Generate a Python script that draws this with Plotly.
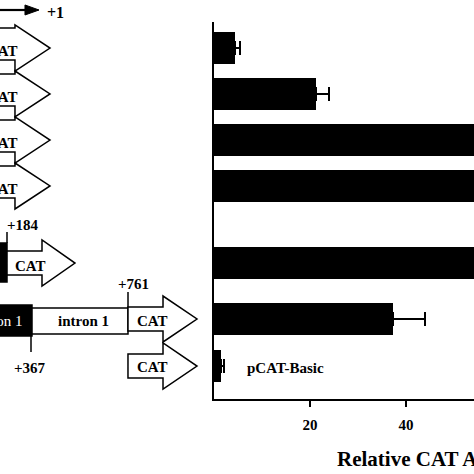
import plotly.graph_objects as go

# constructs (top to bottom) and relative CAT activity
constructs = ["del-1", "del-2", "del-3", "del-4", "+1/+184", "+1/+761", "pCAT-Basic"]
activity = [4.4, 21.3, 78.0, 74.0, 70.0, 37.3, 1.5]
error = [1.0, 2.7, 4.0, 4.0, 4.0, 6.7, 0.6]
x_ticks = [20, 40, 60]

W, H = 474, 474
row_px = [48, 94, 140, 186, 263, 319, 366]   # row centres, in pixels from top
SERIF = "Liberation Serif, Times New Roman, serif"


def px(x):
    return x / W


def py(y):
    return 1 - y / H


def path(points):
    s = "M " + " L ".join("%.4f,%.4f" % (px(x), py(y)) for x, y in points)
    return s + " Z"


def cat_arrow(x0, x1, tip, cy, top=12, bot=12, head=23):
    return path([(x0, cy - top), (x1, cy - top), (x1, cy - head), (tip, cy),
                 (x1, cy + head), (x1, cy + bot), (x0, cy + bot)])


fig = go.Figure()

fig.add_trace(go.Bar(
    x=activity, y=row_px, orientation="h", width=32,
    marker=dict(color="black", line=dict(width=0)),
    error_x=dict(type="data", array=error, symmetric=False, arrayminus=[0] * len(error),
                 color="black", thickness=2, width=7),
    hovertext=constructs, hoverinfo="text+x",
))

shapes = []
annotations = []
line = dict(color="black", width=1.5)


def label(text, x, y, size=14, color="black", anchor="center"):
    annotations.append(dict(text="<b>%s</b>" % text, x=px(x), y=py(y), xref="paper", yref="paper",
                            xanchor=anchor, yanchor="middle", showarrow=False,
                            font=dict(family=SERIF, size=size, color=color)))


# transcription start arrow
shapes.append(dict(type="line", xref="paper", yref="paper", x0=px(-2), y0=py(10), x1=px(27), y1=py(10),
                   line=dict(color="black", width=2.2)))
shapes.append(dict(type="path", xref="paper", yref="paper", path=path([(25, 5), (39, 10), (25, 15)]),
                   fillcolor="black", line=dict(color="black", width=1)))
label("+1", 55, 12, size=16)

# deletion constructs
for cy in row_px[:4]:
    shapes.append(dict(type="path", xref="paper", yref="paper",
                       path=cat_arrow(-5, 15, 50, cy, top=20, bot=12),
                       fillcolor="white", line=line))
    label("CAT", 20, cy + 3, size=15, anchor="right")

# +1 to +184
cy = row_px[4]
shapes.append(dict(type="rect", xref="paper", yref="paper", x0=px(-5), x1=px(7), y0=py(243), y1=py(282),
                   fillcolor="black", line=line))
shapes.append(dict(type="line", xref="paper", yref="paper", x0=px(7), x1=px(7), y0=py(232), y1=py(243), line=line))
label("+184", 23, 225, size=15)
shapes.append(dict(type="path", xref="paper", yref="paper", path=cat_arrow(7, 42, 75, cy),
                   fillcolor="white", line=line))
label("CAT", 30, cy + 3, size=15)

# exon 1 / intron 1
cy = row_px[5]
shapes.append(dict(type="rect", xref="paper", yref="paper", x0=px(-5), x1=px(32), y0=py(305), y1=py(336),
                   fillcolor="black", line=line))
annotations.append(dict(text="exon 1", x=px(24), y=py(321), xref="paper", yref="paper", xanchor="right",
                        yanchor="middle", showarrow=False, font=dict(family=SERIF, size=15, color="white")))
shapes.append(dict(type="rect", xref="paper", yref="paper", x0=px(32), x1=px(128), y0=py(308), y1=py(334),
                   fillcolor="white", line=line))
label("intron 1", 83, 321, size=15)
shapes.append(dict(type="line", xref="paper", yref="paper", x0=px(31), x1=px(31), y0=py(336), y1=py(352), line=line))
label("+367", 30, 368, size=15)
shapes.append(dict(type="line", xref="paper", yref="paper", x0=px(128), x1=px(128), y0=py(292), y1=py(308), line=line))
label("+761", 133, 284, size=15)
shapes.append(dict(type="path", xref="paper", yref="paper", path=cat_arrow(128, 163, 197, cy),
                   fillcolor="white", line=line))
label("CAT", 152, cy + 2, size=15)

# pCAT-Basic
cy = row_px[6]
shapes.append(dict(type="path", xref="paper", yref="paper", path=cat_arrow(128, 163, 197, cy),
                   fillcolor="white", line=line))
label("CAT", 152, cy + 1, size=15)
label("pCAT-Basic", 245, 368, size=15, anchor="left")

# axis title (cut off at the right edge, as in the figure)
label("Relative CAT Activity", 335, 459, size=21, anchor="left")

fig.update_layout(
    width=W, height=H, autosize=False,
    margin=dict(l=0, r=0, t=0, b=0),
    paper_bgcolor="white", plot_bgcolor="white",
    showlegend=False, bargap=0,
    shapes=shapes, annotations=annotations,
    xaxis=dict(domain=[px(214), 1], range=[0, (W - 214) / 4.8], showgrid=False, zeroline=False,
               showline=True, linecolor="black", linewidth=1.8,
               tickvals=x_ticks, ticks="outside", ticklen=6, tickwidth=1.5, tickcolor="black",
               ticklabelstandoff=5,
               tickfont=dict(family=SERIF, size=15, color="black", weight="bold")),
    yaxis=dict(domain=[py(399), py(22)], range=[399, 22], showgrid=False, zeroline=False,
               showline=True, linecolor="black", linewidth=1.8, showticklabels=False, ticks=""),
)

# the page's default 8px body margin would shift the figure
fig.write_html("out.html", config={"displayModeBar": False},
               post_script="document.body.style.margin='0';")
